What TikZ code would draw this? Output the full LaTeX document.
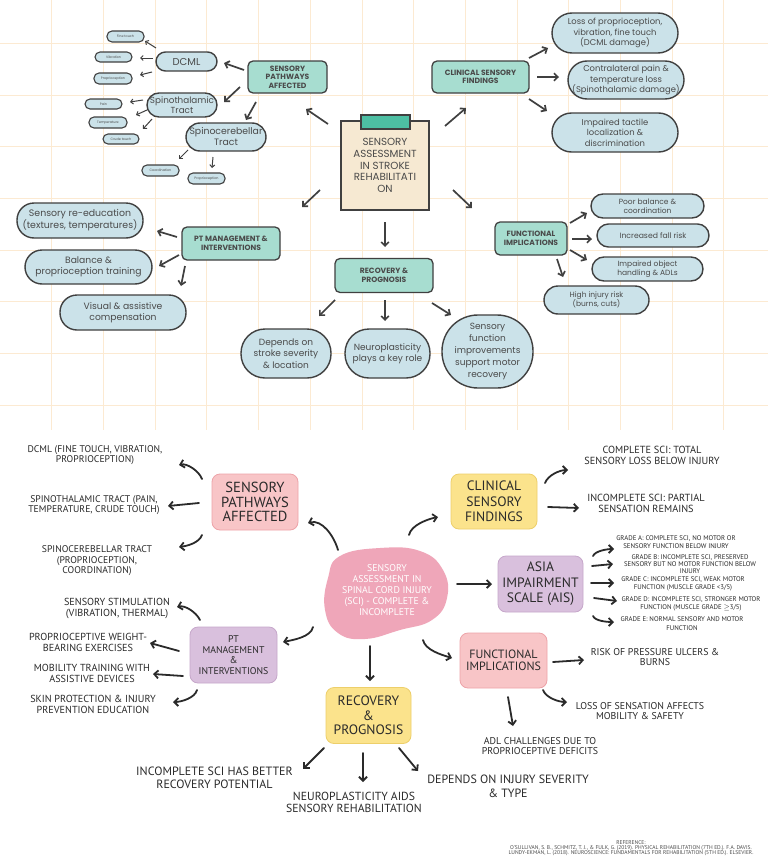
\documentclass[tikz,border=0pt]{standalone}
\usepackage{fontspec}
\setmainfont{Poppins}
\newfontfamily\hand{PT Sans}
\usetikzlibrary{arrows.meta}
\definecolor{gridc}{HTML}{FCEAD2}
\definecolor{ink}{HTML}{404040}
\definecolor{txt}{HTML}{4A4A4A}
\definecolor{tealf}{HTML}{A7DDD0}
\definecolor{tabf}{HTML}{4DBFA3}
\definecolor{beige}{HTML}{F6E9D2}
\definecolor{bluef}{HTML}{CBE2E9}
\definecolor{pinkf}{HTML}{F8C5C7}
\definecolor{pinkb}{HTML}{EDA3A8}
\definecolor{yelf}{HTML}{FBE38C}
\definecolor{yelb}{HTML}{EDCF6A}
\definecolor{purf}{HTML}{D9C0DD}
\definecolor{purb}{HTML}{C6A7CA}
\definecolor{blobf}{HTML}{EFA6B9}
\definecolor{hink}{HTML}{2A2A2A}
\tikzset{
 arr/.style={draw=ink, line width=1.7pt, -{Straight Barb[length=3.8pt,width=7.5pt]}},
 sarr/.style={draw=ink, line width=1pt, -{Straight Barb[length=2.5pt,width=5pt]}},
 harr/.style={draw=hink, line width=1.8pt, line cap=round, -{Straight Barb[length=4pt,width=8pt]}},
 teal/.style={draw=ink, fill=tealf, line width=1.3pt, rounded corners=5pt, align=center, inner sep=0pt, text=txt, font=\fontsize{7.6}{8.6}\selectfont\bfseries},
 pill/.style={draw=ink, fill=bluef, line width=1.4pt, align=center, inner sep=0pt, text=txt, font=\fontsize{8.4}{10.5}\selectfont},
 tiny/.style={draw=ink, fill=bluef, line width=1.1pt, rounded corners=5pt, inner sep=0pt, text=txt, font=\fontsize{3.3}{4}\selectfont},
 hbox/.style={rounded corners=8pt, line width=0.8pt, align=center, inner sep=0pt, text=hink},
 htxt/.style={align=center, inner sep=0pt, text=hink},
}
\begin{document}
\begin{tikzpicture}[x=1pt,y=-1pt]
\useasboundingbox (0,0) rectangle (768,862);
\fill[white] (0,0) rectangle (768,862);
% grid
\foreach \i in {1,...,14} \draw[gridc, line width=0.8pt] (\i*51.7,0) -- (\i*51.7,430);
\foreach \j in {0,...,7} \draw[gridc, line width=0.8pt] (0,43.2+\j*51.7) -- (768,43.2+\j*51.7);

% ---------- TOP: stroke ----------
\node[draw=ink, fill=beige, line width=1.2pt, minimum width=88pt, minimum height=89pt, inner sep=0pt, align=center, text=txt, font=\fontsize{10.3}{11.6}\selectfont] (ctr) at (385,165.5) {SENSORY\\ASSESSMENT\\IN STROKE\\REHABILITATI\\ON};
\node[draw=ink, fill=tabf, line width=1.2pt, minimum width=49pt, minimum height=14pt, inner sep=0pt] (tab) at (385.5,122) {};

\node[teal, minimum width=79pt, minimum height=32pt] (sp) at (287.5,77) {SENSORY\\PATHWAYS\\AFFECTED};
\node[pill, minimum width=61pt, minimum height=19pt, rounded corners=9.5pt, font=\fontsize{10}{12}\selectfont] (dcml) at (186.5,61.5) {DCML};
\node[tiny, minimum width=37pt, minimum height=11pt] (fine) at (125.5,36.5) {Fine touch};
\node[tiny, minimum width=37pt, minimum height=10pt] (vib) at (113.5,57) {Vibration};
\node[tiny, minimum width=38pt, minimum height=11pt] (propa) at (113,78.5) {Proprioception};
\node[pill, minimum width=70pt, minimum height=24pt, rounded corners=12pt, font=\fontsize{8.8}{10}\selectfont] (spino) at (182,105) {Spinothalamic\\Tract};
\node[tiny, minimum width=37pt, minimum height=10pt] (pain) at (103.5,104) {Pain};
\node[tiny, minimum width=38pt, minimum height=11pt] (temp) at (108,122.5) {Temperature};
\node[tiny, minimum width=36pt, minimum height=10pt] (crude) at (121,139) {Crude touch};
\node[pill, minimum width=80pt, minimum height=28pt, rounded corners=14pt, font=\fontsize{9.3}{11}\selectfont] (cereb) at (226,137) {Spinocerebellar\\Tract};
\node[tiny, minimum width=37pt, minimum height=11pt] (coord) at (160.5,170.5) {Coordination};
\node[tiny, minimum width=37pt, minimum height=11pt] (propb) at (206.5,178.5) {Proprioception};

\node[teal, minimum width=97pt, minimum height=32pt] (clin) at (480.5,77) {CLINICAL SENSORY\\FINDINGS};
\node[pill, minimum width=126pt, minimum height=40pt, rounded corners=20pt] (loss) at (615,33) {Loss of proprioception,\\vibration, fine touch\\(DCML damage)};
\node[pill, minimum width=116pt, minimum height=38pt, rounded corners=19pt] (contra) at (626,80) {Contralateral pain \&\\temperature loss\\(Spinothalamic damage)};
\node[pill, minimum width=126pt, minimum height=39pt, rounded corners=19.5pt] (imptac) at (615,132.5) {Impaired tactile\\localization \&\\discrimination};

\node[teal, minimum width=72pt, minimum height=33pt] (func) at (531,238.5) {FUNCTIONAL\\IMPLICATIONS};
\node[pill, minimum width=113pt, minimum height=24pt, rounded corners=12pt, font=\fontsize{7.5}{9}\selectfont] (poor) at (647.5,206) {Poor balance \&\\coordination};
\node[pill, minimum width=112pt, minimum height=23pt, rounded corners=11.5pt, font=\fontsize{7.7}{9}\selectfont] (fall) at (653,235.5) {Increased fall risk};
\node[pill, minimum width=111pt, minimum height=24pt, rounded corners=12pt, font=\fontsize{7.5}{9}\selectfont] (obj) at (647.5,269) {Impaired object\\handling \& ADLs};
\node[pill, minimum width=105pt, minimum height=28pt, rounded corners=14pt, font=\fontsize{7.5}{9.5}\selectfont] (high) at (596.5,300) {High injury risk\\(burns, cuts)};

\node[teal, minimum width=98pt, minimum height=33pt] (ptm) at (231,243.5) {PT MANAGEMENT \&\\INTERVENTIONS};
\node[pill, minimum width=126pt, minimum height=35pt, rounded corners=17pt, font=\fontsize{9.4}{11}\selectfont] (reed) at (80,220.5) {Sensory re-education\\(textures, temperatures)};
\node[pill, minimum width=127pt, minimum height=34pt, rounded corners=17pt, font=\fontsize{9.2}{11.5}\selectfont] (bal) at (88.5,267) {Balance \&\\proprioception training};
\node[pill, minimum width=126pt, minimum height=35pt, rounded corners=17pt, font=\fontsize{9.2}{11.5}\selectfont] (vis) at (123,312.5) {Visual \& assistive\\compensation};

\node[teal, minimum width=98pt, minimum height=34pt] (rec) at (384,275.5) {RECOVERY \&\\PROGNOSIS};
\node[pill, minimum width=90pt, minimum height=49pt, rounded corners=24pt, font=\fontsize{9}{11.5}\selectfont] (dep) at (286,353.5) {Depends on\\stroke severity\\\& location};
\node[pill, minimum width=85pt, minimum height=49pt, rounded corners=24pt, font=\fontsize{9}{11.5}\selectfont] (neu) at (387.5,353.5) {Neuroplasticity\\plays a key role};
\node[pill, minimum width=91pt, minimum height=73pt, rounded corners=36pt, font=\fontsize{9}{11.8}\selectfont] (sfi) at (487.5,351.5) {Sensory\\function\\improvements\\support motor\\recovery};

% top connectors
\foreach \n/\sx/\sy/\ex/\ey in {t1/328/124/306/109, t2/244/70/224/63, t3/240/87/224/102, t4/256/102/246/120,
  t13/445/126/466/108, t14/529/58/548/48, t15/537/77/559/77, t16/529/99/547/111,
  t17/453/190/472/208, t18/570/223/587/213, t19/572/239/592/239, t20/570/250/587/260, t21/557/259/563/277,
  t22/320/190/302/207, t23/177/237/157/231, t24/179/255/159/266, t25/185/266/181/286,
  t26/385/222/385/247, t27/335/300/319/316, t28/385/300/385/321, t29/432/303/451/315}
{ \coordinate (\n s) at (\sx,\sy); \coordinate (\n e) at (\ex,\ey); \draw[arr] (\n s) -- (\n e); }
\foreach \n/\sx/\sy/\ex/\ey in {t5/156/48/145/41, t6/153/58/140/58, t7/152/72/140/75, t8/143/100/130/102,
  t9/147/110/136/115, t10/152/119/143/129, t11/188/150/179/159, t12/213/157/212/168}
{ \coordinate (\n s) at (\sx,\sy); \coordinate (\n e) at (\ex,\ey); \draw[sarr] (\n s) -- (\n e); }

% ---------- BOTTOM: SCI ----------
\fill[blobf] plot[smooth cycle, tension=0.75] coordinates {(340,556) (380,548) (420,551) (443,570) (447,598) (432,620) (400,630) (365,639) (338,633) (325,610) (328,578)};
\node[htxt, text=white, font=\hand\fontsize{9.8}{10.8}\selectfont] (sci) at (387,590) {SENSORY\\ASSESSMENT IN\\SPINAL CORD INJURY\\(SCI) - COMPLETE \&\\INCOMPLETE};

\node[hbox, draw=pinkb, fill=pinkf, minimum width=86pt, minimum height=56pt, font=\hand\fontsize{14.6}{14.8}\selectfont] (spa) at (255,502) {SENSORY\\PATHWAYS\\AFFECTED};
\node[hbox, draw=yelb, fill=yelf, minimum width=86pt, minimum height=55pt, font=\hand\fontsize{13.6}{15.5}\selectfont] (csf) at (494,501.5) {CLINICAL\\SENSORY\\FINDINGS};
\node[hbox, draw=purb, fill=purf, minimum width=85pt, minimum height=56pt, font=\hand\fontsize{13.6}{15.5}\selectfont] (asia) at (540.5,584) {ASIA\\IMPAIRMENT\\SCALE (AIS)};
\node[hbox, draw=pinkb, fill=pinkf, minimum width=87pt, minimum height=55pt, font=\hand\fontsize{12}{12.5}\selectfont] (fi) at (503.5,660.5) {FUNCTIONAL\\IMPLICATIONS};
\node[hbox, draw=purb, fill=purf, minimum width=87pt, minimum height=56pt, font=\hand\fontsize{9.8}{10.5}\selectfont] (ptb) at (233.5,655) {PT\\MANAGEMENT\\\&\\INTERVENTIONS};
\node[hbox, draw=yelb, fill=yelf, minimum width=85pt, minimum height=56pt, font=\hand\fontsize{13.6}{14.5}\selectfont] (rp) at (368.5,715.5) {RECOVERY\\\&\\PROGNOSIS};

\node[htxt, font=\hand\fontsize{9.7}{10.6}\selectfont] (sp1) at (95,455) {DCML (FINE TOUCH, VIBRATION,\\PROPRIOCEPTION)};
\node[htxt, font=\hand\fontsize{9.7}{10.6}\selectfont] (sp2) at (94,505) {SPINOTHALAMIC TRACT (PAIN,\\TEMPERATURE, CRUDE TOUCH)};
\node[htxt, font=\hand\fontsize{9.7}{10.6}\selectfont] (sp3) at (97,561) {SPINOCEREBELLAR TRACT\\(PROPRIOCEPTION,\\COORDINATION)};
\node[htxt, font=\hand\fontsize{10.3}{10.8}\selectfont] (cs1) at (652,455.5) {COMPLETE SCI: TOTAL\\SENSORY LOSS BELOW INJURY};
\node[htxt, font=\hand\fontsize{10.3}{10.8}\selectfont] (cs2) at (646,503) {INCOMPLETE SCI: PARTIAL\\SENSATION REMAINS};
\node[htxt, font=\hand\fontsize{6.8}{7.8}\selectfont] (ga) at (676,542.5) {GRADE A: COMPLETE SCI, NO MOTOR OR\\SENSORY FUNCTION BELOW INJURY};
\node[htxt, font=\hand\fontsize{6.8}{7.2}\selectfont] (gb) at (690,564) {GRADE B: INCOMPLETE SCI, PRESERVED\\SENSORY BUT NO MOTOR FUNCTION BELOW\\INJURY};
\node[htxt, font=\hand\fontsize{6.8}{7.8}\selectfont] (gc) at (683,583.5) {GRADE C: INCOMPLETE SCI, WEAK MOTOR\\FUNCTION (MUSCLE GRADE <3/5)};
\node[htxt, font=\hand\fontsize{6.8}{7.8}\selectfont] (gd) at (691,604) {GRADE D: INCOMPLETE SCI, STRONGER MOTOR\\FUNCTION (MUSCLE GRADE $\geq$3/5)};
\node[htxt, font=\hand\fontsize{6.8}{8.4}\selectfont] (ge) at (682,623.5) {GRADE E: NORMAL SENSORY AND MOTOR\\FUNCTION};
\node[htxt, font=\hand\fontsize{9.9}{10.6}\selectfont] (fi1) at (655,657) {RISK OF PRESSURE ULCERS \&\\BURNS};
\node[htxt, font=\hand\fontsize{9.9}{10.6}\selectfont] (fi2) at (640,711) {LOSS OF SENSATION AFFECTS\\MOBILITY \& SAFETY};
\node[htxt, font=\hand\fontsize{9.9}{10.6}\selectfont] (fi3) at (540,746) {ADL CHALLENGES DUE TO\\PROPRIOCEPTIVE DEFICITS};
\node[htxt, font=\hand\fontsize{10.2}{11}\selectfont] (pt1) at (117,608.5) {SENSORY STIMULATION\\(VIBRATION, THERMAL)};
\node[htxt, font=\hand\fontsize{10.2}{11}\selectfont] (pt2) at (88,642) {PROPRIOCEPTIVE WEIGHT-\\BEARING EXERCISES};
\node[htxt, font=\hand\fontsize{10.2}{11}\selectfont] (pt3) at (92,673.5) {MOBILITY TRAINING WITH\\ASSISTIVE DEVICES};
\node[htxt, font=\hand\fontsize{10.2}{11}\selectfont] (pt4) at (93,704) {SKIN PROTECTION \& INJURY\\PREVENTION EDUCATION};
\node[htxt, font=\hand\fontsize{12}{13}\selectfont] (rp1) at (214.5,778) {INCOMPLETE SCI HAS BETTER\\RECOVERY POTENTIAL};
\node[htxt, font=\hand\fontsize{11.7}{12}\selectfont] (rp2) at (354,802.5) {NEUROPLASTICITY AIDS\\SENSORY REHABILITATION};
\node[htxt, font=\hand\fontsize{12}{14}\selectfont] (rp3) at (508,786) {DEPENDS ON INJURY SEVERITY\\\& TYPE};
\node[htxt, text=txt, font=\hand\fontsize{5.5}{5.2}\selectfont] (refs) at (631,848) {REFERENCE:\\O'SULLIVAN, S. B., SCHMITZ, T. J., \& FULK, G. (2019). PHYSICAL REHABILITATION (7TH ED.). F.A. DAVIS.\\LUNDY-EKMAN, L. (2018). NEUROSCIENCE: FUNDAMENTALS FOR REHABILITATION (5TH ED.). ELSEVIER.};

% bottom connectors: straight
\foreach \n/\sx/\sy/\ex/\ey in {b3/199/503/168/506, b7/548/507/579/508, b8/457/584/492/584,
  b10/592/566/613/564, b11/591/583/614/583, b12/594/598/617/601, b15/553/662/584/660,
  b17/508/697/513/726, b20/179/651/150/643, b21/183/676/153/674, b23/370/646/370/681,
  b24/324/748/303/769, b25/363/753/363/782, b26/399/748/418/771}
{ \coordinate (\n s) at (\sx,\sy); \coordinate (\n e) at (\ex,\ey); \draw[harr] (\n s) -- (\n e); }
% bottom connectors: curved
\foreach \n/\sx/\sy/\ex/\ey/\ax/\ay/\bx/\by in {b1/338/550/308/523/-4/-14/14/-4, b2/202/479/179/465/-3/-8/8/-2,
  b4/202/535/179/547/-3/8/8/-1, b5/409/535/438/517/2/-10/-10/2, b6/545/483/568/470/3/-8/-8/0,
  b9/593/556/614/549/2/-5/-7/0, b13/593/616/614/622/2/5/-7/0, b14/423/640/452/658/2/10/-10/-3,
  b16/543/690/567/702/3/8/-8/0, b18/313/627/283/642/-2/10/10/-2, b19/200/620/177/607/-4/-8/8/-2,
  b22/197/690/173/702/-2/8/8/0}
{ \coordinate (\n s) at (\sx,\sy); \coordinate (\n e) at (\ex,\ey);
  \draw[harr] (\n s) .. controls +(\ax,\ay) and +(\bx,\by) .. (\n e); }
\end{tikzpicture}
\end{document}
